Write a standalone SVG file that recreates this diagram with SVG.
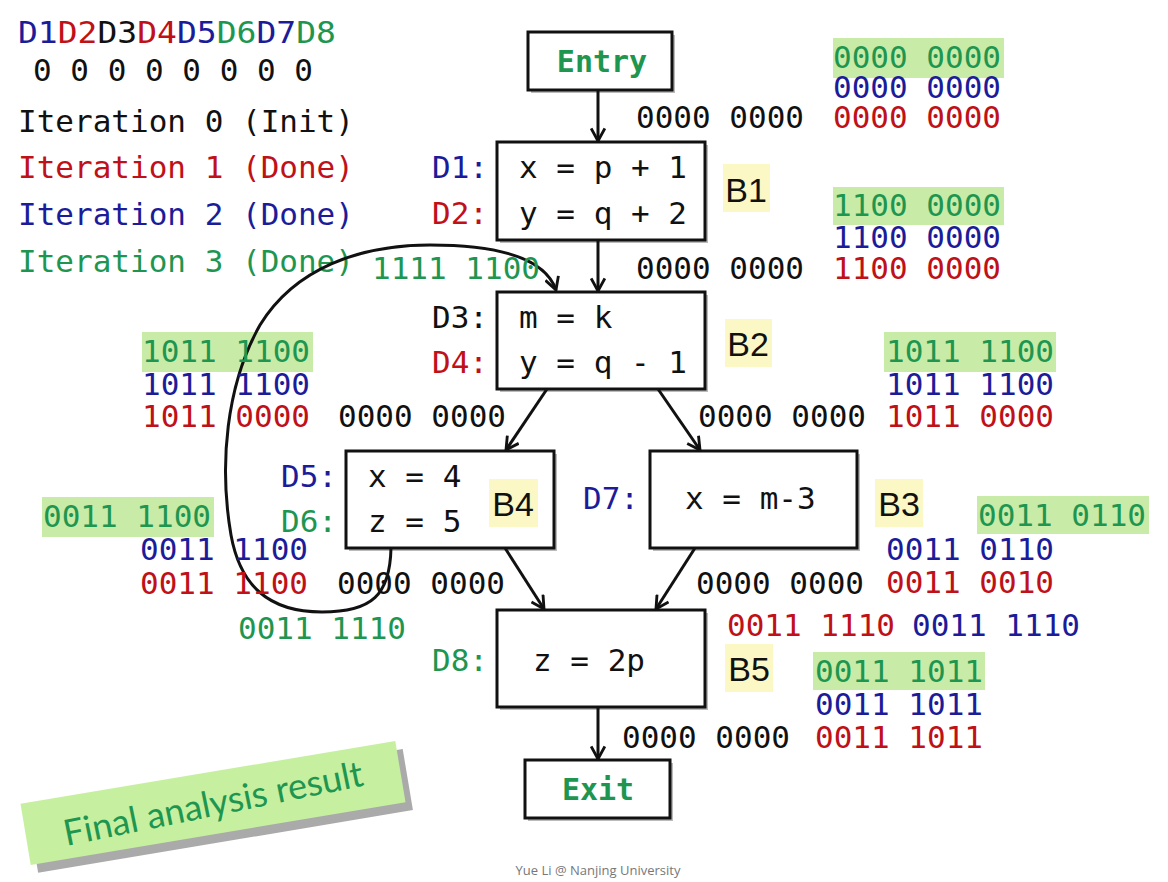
<svg xmlns="http://www.w3.org/2000/svg" width="1168" height="882" viewBox="0 0 1168 882">
<defs>
<style>
.m{font-family:"DejaVu Sans Mono","Liberation Mono",monospace;font-size:31px}
.mb{font-family:"DejaVu Sans Mono","Liberation Mono",monospace;font-size:30px;font-weight:bold;fill:#1e9650}
.s{font-family:"Liberation Sans",Arial,sans-serif;font-size:34px;fill:#111}
.k{fill:#111}.r{fill:#c01018}.b{fill:#1c1c9a}.g{fill:#1e9650}
.box{fill:#fff;stroke:#111;stroke-width:3}
.sh{fill:#bbb}
.hl{fill:#c8eba8}
.yl{fill:#fbf8c6}
.c{fill:none;stroke:#111;stroke-width:3}
</style>
<marker id="ah" viewBox="0 0 14 14" refX="12" refY="7" markerWidth="16" markerHeight="16" markerUnits="userSpaceOnUse" orient="auto">
<path d="M1,1 L12,7 L1,13" fill="none" stroke="#111" stroke-width="2.5"/>
</marker>
</defs>
<rect width="1168" height="882" fill="#fff"/>

<g id="legend">
<text class="m" x="18" y="43" font-size="32.5" textLength="318" lengthAdjust="spacingAndGlyphs"><tspan class="b">D1</tspan><tspan class="r">D2</tspan><tspan class="k">D3</tspan><tspan class="r">D4</tspan><tspan class="b">D5</tspan><tspan class="g">D6</tspan><tspan class="b">D7</tspan><tspan class="g">D8</tspan></text>
<text class="m k" x="33" y="81">0 0 0 0 0 0 0 0</text>
<text class="m k" x="18" y="132">Iteration 0 (Init)</text>
<text class="m r" x="18" y="178">Iteration 1 (Done)</text>
<text class="m b" x="18" y="225">Iteration 2 (Done)</text>
<text class="m g" x="18" y="272">Iteration 3 (Done)</text>
</g>

<g id="highlights">
<rect class="hl" x="833" y="38" width="171" height="40"/>
<rect class="hl" x="833" y="187" width="171" height="38"/>
<rect class="hl" x="142" y="332" width="171" height="40"/>
<rect class="hl" x="884" y="332" width="172" height="40"/>
<rect class="hl" x="42" y="497" width="172" height="40"/>
<rect class="hl" x="977" y="496" width="172" height="38"/>
<rect class="hl" x="813" y="652" width="172" height="38"/>
</g>

<g id="entry">
<rect class="sh" x="531" y="35" width="144" height="58"/>
<rect class="box" x="528" y="32" width="144" height="58"/>
<text class="mb" x="602" y="72" text-anchor="middle">Entry</text>
</g>

<g id="B1">
<rect class="sh" x="500" y="145" width="208" height="98"/>
<rect class="box" x="497" y="142" width="208" height="98"/>
<text class="m k" x="519" y="178">x = p + 1</text>
<text class="m k" x="519" y="224">y = q + 2</text>
<text class="m b" x="432" y="178">D1:</text>
<text class="m r" x="432" y="224">D2:</text>
<rect class="yl" x="723" y="164" width="47" height="48"/>
<text class="s" x="746" y="202" text-anchor="middle">B1</text>
</g>

<g id="B2">
<rect class="sh" x="500" y="295" width="208" height="97"/>
<rect class="box" x="497" y="292" width="208" height="97"/>
<text class="m k" x="519" y="328">m = k</text>
<text class="m k" x="519" y="373">y = q - 1</text>
<text class="m k" x="432" y="328">D3:</text>
<text class="m r" x="432" y="373">D4:</text>
<rect class="yl" x="725" y="319" width="47" height="48"/>
<text class="s" x="748" y="356" text-anchor="middle">B2</text>
</g>

<g id="B4">
<rect class="sh" x="349" y="454" width="208" height="97"/>
<rect class="box" x="346" y="451" width="208" height="97"/>
<text class="m k" x="368" y="487">x = 4</text>
<text class="m k" x="368" y="532">z = 5</text>
<text class="m b" x="281" y="487">D5:</text>
<text class="m g" x="281" y="532">D6:</text>
<rect class="yl" x="489" y="479" width="49" height="48"/>
<text class="s" x="513" y="516" text-anchor="middle">B4</text>
</g>

<g id="B3">
<rect class="sh" x="653" y="454" width="207" height="97"/>
<rect class="box" x="650" y="451" width="207" height="97"/>
<text class="m k" x="685" y="509">x = m-3</text>
<text class="m b" x="583" y="509">D7:</text>
<rect class="yl" x="875" y="479" width="48" height="48"/>
<text class="s" x="899" y="516" text-anchor="middle">B3</text>
</g>

<g id="B5">
<rect class="sh" x="500" y="613" width="208" height="97"/>
<rect class="box" x="497" y="610" width="208" height="97"/>
<text class="m k" x="533" y="671">z = 2p</text>
<text class="m g" x="432" y="671">D8:</text>
<rect class="yl" x="725" y="644" width="48" height="48"/>
<text class="s" x="749" y="681" text-anchor="middle">B5</text>
</g>

<g id="exit">
<rect class="sh" x="528" y="763" width="145" height="58"/>
<rect class="box" x="525" y="760" width="145" height="58"/>
<text class="mb" x="598" y="800" text-anchor="middle">Exit</text>
</g>

<g id="connectors">
<line class="c" x1="598" y1="90" x2="598" y2="141" marker-end="url(#ah)"/>
<line class="c" x1="598" y1="240" x2="598" y2="291" marker-end="url(#ah)"/>
<line class="c" x1="547" y1="389" x2="506" y2="450" marker-end="url(#ah)"/>
<line class="c" x1="658" y1="389" x2="700" y2="450" marker-end="url(#ah)"/>
<line class="c" x1="505" y1="548" x2="544" y2="609" marker-end="url(#ah)"/>
<line class="c" x1="695" y1="548" x2="656" y2="609" marker-end="url(#ah)"/>
<line class="c" x1="598" y1="707" x2="598" y2="759" marker-end="url(#ah)"/>
<path class="c" d="M391,548 C390,595 372,612 322,612 C268,612 240,585 231,535 C219,465 226,385 260,325 C295,268 360,245 430,245 C500,245 545,258 556,290" marker-end="url(#ah)"/>
</g>

<g id="facts">
<text class="m k" x="636" y="128">0000 0000</text>
<text class="m g" x="833" y="68">0000 0000</text>
<text class="m b" x="833" y="98">0000 0000</text>
<text class="m r" x="833" y="128">0000 0000</text>

<text class="m k" x="636" y="279">0000 0000</text>
<text class="m g" x="833" y="216">1100 0000</text>
<text class="m b" x="833" y="248">1100 0000</text>
<text class="m r" x="833" y="279">1100 0000</text>
<text class="m g" x="372" y="279">1111 1100</text>

<text class="m g" x="142" y="362">1011 1100</text>
<text class="m b" x="142" y="395">1011 1100</text>
<text class="m r" x="142" y="427">1011 0000</text>
<text class="m k" x="338" y="427">0000 0000</text>

<text class="m g" x="886" y="362">1011 1100</text>
<text class="m b" x="886" y="395">1011 1100</text>
<text class="m r" x="886" y="427">1011 0000</text>
<text class="m k" x="698" y="427">0000 0000</text>

<text class="m g" x="43" y="527">0011 1100</text>
<text class="m b" x="140" y="560">0011 1100</text>
<text class="m r" x="140" y="594">0011 1100</text>
<text class="m k" x="337" y="594">0000 0000</text>
<text class="m g" x="238" y="639">0011 1110</text>

<text class="m g" x="978" y="526">0011 0110</text>
<text class="m b" x="886" y="560">0011 0110</text>
<text class="m r" x="886" y="593">0011 0010</text>
<text class="m k" x="696" y="594">0000 0000</text>

<text class="m r" x="727" y="636">0011 1110</text>
<text class="m b" x="912" y="636">0011 1110</text>

<text class="m g" x="815" y="682">0011 1011</text>
<text class="m b" x="815" y="715">0011 1011</text>
<text class="m r" x="815" y="748">0011 1011</text>
<text class="m k" x="622" y="748">0000 0000</text>
</g>

<g id="note" transform="rotate(-9.5 213 803)">
<rect x="26" y="777" width="380" height="62" fill="#aaa" transform="translate(3 4)"/>
<rect x="23" y="772" width="380" height="62" fill="#c6f0a0"/>
<text x="213" y="816" text-anchor="middle" font-family="Lato,'Open Sans',sans-serif" font-size="36" fill="#1e9650" transform="rotate(-2 213 803)">Final analysis result</text>
</g>

<text x="598" y="875" text-anchor="middle" font-family="'Open Sans','Liberation Sans',sans-serif" font-size="13" fill="#777">Yue Li @ Nanjing University</text>
</svg>
